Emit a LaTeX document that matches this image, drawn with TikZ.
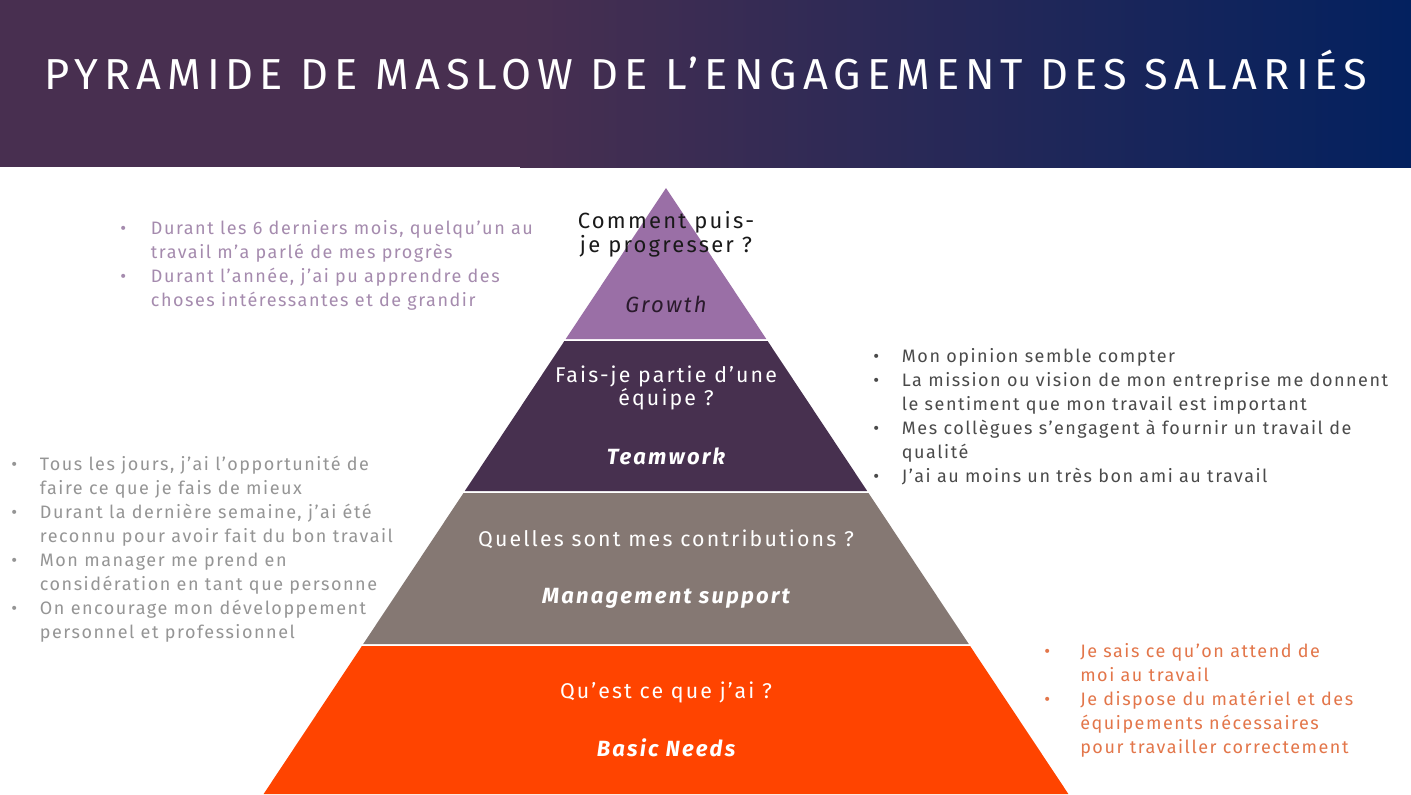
\documentclass[tikz,border=0pt]{standalone}
\usepackage{fontspec}
\setmainfont{Fira Sans}
\newfontfamily\titlefont{Fira Sans}[LetterSpace=14]
\newfontfamily\bodyfont{Fira Sans}[LetterSpace=8.5]
\newfontfamily\labelfont{Fira Sans}[LetterSpace=10]
\definecolor{titleL}{HTML}{482F50}
\definecolor{titleR}{HTML}{03215F}
\definecolor{growthC}{HTML}{9A6FA6}
\definecolor{teamC}{HTML}{47304F}
\definecolor{mgmtC}{HTML}{857873}
\definecolor{basicC}{HTML}{FF4400}
\definecolor{growthT}{HTML}{A58BAE}
\definecolor{teamT}{HTML}{4A4A4A}
\definecolor{mgmtT}{HTML}{959595}
\definecolor{basicT}{HTML}{E3764A}
\definecolor{darkT}{HTML}{2A1A2C}
\newcommand{\bul}[1]{\makebox[#1][l]{\textbullet}}
\newcommand{\ind}[1]{\hspace*{#1}}
\begin{document}
\begin{tikzpicture}[x=0.75pt,y=-0.75pt,
  bulletblock/.style={anchor=base west, inner sep=0pt, align=left, font=\bodyfont\fontsize{13.5}{18}\selectfont},
  qlabel/.style={anchor=base, inner sep=0pt, align=center, font=\labelfont\fontsize{16}{17.25}\selectfont},
  namelabel/.style={anchor=base, inner sep=0pt, font=\labelfont\fontsize{16.5}{18}\selectfont\bfseries\itshape, text=white}]
\useasboundingbox (0,0) rectangle (1411,794);
\fill[white] (0,0) rectangle (1411,794);
% title bar
\fill[titleL] (0,0) rectangle (521,167);
\shade[left color=titleL, right color=titleR] (520,0) rectangle (1411,167);
\node[anchor=base, inner sep=0pt, text=white, font=\titlefont\fontsize{32.5}{34}\selectfont] (title) at (706,89) {PYRAMIDE DE MASLOW DE L’ENGAGEMENT DES SALARIÉS};
% pyramid layers
\fill[growthC] (666,188) -- (766.3,339) -- (565.7,339) -- cycle;
\fill[teamC] (564.4,341) -- (767.6,341) -- (867.2,491) -- (464.8,491) -- cycle;
\fill[mgmtC] (463.5,493) -- (868.5,493) -- (968.8,644) -- (363.2,644) -- cycle;
\fill[basicC] (361.9,646) -- (970.1,646) -- (1068.4,794) -- (263.6,794) -- cycle;
% pyramid labels (anchor base = last line)
\node[qlabel, text=black!90, font=\labelfont\fontsize{16.5}{17.5}\selectfont] (q1) at (666,252) {Comment puis-\\je progresser ?};
\node[anchor=base, inner sep=0pt, font=\labelfont\fontsize{16.5}{18}\selectfont\itshape, text=darkT] (n1) at (666,312) {Growth};
\node[qlabel, text=white] (q2) at (666,405) {Fais-je partie d’une\\équipe ?};
\node[namelabel] (n2) at (666,464) {Teamwork};
\node[qlabel, text=white] (q3) at (666,546) {Quelles sont mes contributions ?};
\node[namelabel] (n3) at (666,603) {Management support};
\node[qlabel, text=white] (q4) at (666,698) {Qu’est ce que j’ai ?};
\node[namelabel] (n4) at (666,756) {Basic Needs};
% bullet blocks (anchor base = last line)
\node[bulletblock, text=growthT] (b1) at (120,306) {%
\bul{23pt}Durant les 6 derniers mois, quelqu’un au\\
\ind{23pt}travail m’a parlé de mes progrès\\
\bul{23pt}Durant l’année, j’ai pu apprendre des\\
\ind{23pt}choses intéressantes et de grandir};
\node[bulletblock, text=teamT] (b2) at (873,482) {%
\bul{21.5pt}Mon opinion semble compter\\
\bul{21.5pt}La mission ou vision de mon entreprise me donnent\\
\ind{21.5pt}le sentiment que mon travail est important\\
\bul{21.5pt}Mes collègues s’engagent à fournir un travail de\\
\ind{21.5pt}qualité\\
\bul{21.5pt}J’ai au moins un très bon ami au travail};
\node[bulletblock, text=mgmtT] (b3) at (11,638) {%
\bul{21.5pt}Tous les jours, j’ai l’opportunité de\\
\ind{21.5pt}faire ce que je fais de mieux\\
\bul{21.5pt}Durant la dernière semaine, j’ai été\\
\ind{21.5pt}reconnu pour avoir fait du bon travail\\
\bul{21.5pt}Mon manager me prend en\\
\ind{21.5pt}considération en tant que personne\\
\bul{21.5pt}On encourage mon développement\\
\ind{21.5pt}personnel et professionnel};
\node[bulletblock, text=basicT] (b4) at (1044,753) {%
\bul{27pt}Je sais ce qu’on attend de\\
\ind{27pt}moi au travail\\
\bul{27pt}Je dispose du matériel et des\\
\ind{27pt}équipements nécessaires\\
\ind{27pt}pour travailler correctement};
\end{tikzpicture}
\end{document}
